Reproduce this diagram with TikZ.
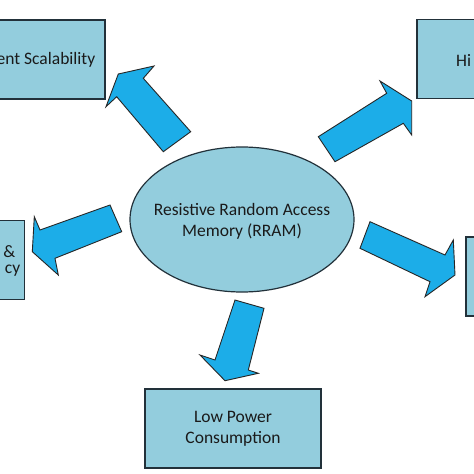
\documentclass[tikz,border=0pt]{standalone}
\usepackage{fontspec}
\setmainfont{Carlito}
\usetikzlibrary{shapes.geometric}
\definecolor{boxfill}{HTML}{93CDDD}
\definecolor{arrowfill}{HTML}{1CADE8}
\definecolor{edge}{HTML}{22313A}
\definecolor{ink}{HTML}{1A1A1A}
\tikzset{
  box/.style={draw=edge, line width=1.2pt, fill=boxfill, rectangle,
    minimum width=176pt, minimum height=79pt, inner sep=0pt},
  blockarrow/.style={draw=black!85, line width=0.9pt, fill=arrowfill, line join=miter},
  lbl/.style={text=ink, font=\fontsize{17.5}{21}\selectfont, inner sep=0pt, align=center},
}
\begin{document}
\begin{tikzpicture}[x=1pt,y=-1pt]
\useasboundingbox (0,0) rectangle (474,474);
\clip (0,0) rectangle (474,474);
\fill[white] (0,0) rectangle (474,474);
% boxes
\node[box] (tl) at (17,59.5) {};
\node[box] (tr) at (505,59) {};
\node[box] (lm) at (-63.7,260) {};
\node[box] (rm) at (554,276.5) {};
\node[box] (bt) at (233,428.5) {};
% ellipse
\node[ellipse, draw=edge, line width=1.2pt, fill=boxfill, minimum width=224pt, minimum height=145pt, inner sep=0pt] (rram) at (242,219.5) {};
% labels
\node[lbl, anchor=east] (tltext) at (95.5,60) {ent Scalability};
\node[lbl, anchor=west] (trtext) at (456,60) {Hi};
\node[lbl, anchor=east] (lmtext1) at (15.5,252) {\&};
\node[lbl, anchor=east] (lmtext2) at (20.5,271) {cy};
\node[lbl] (rramtext) at (242,221.5) {Resistive Random Access\\Memory (RRAM)};
\node[lbl] (bttext) at (233,429) {Low Power\\Consumption};
% block arrows
\draw[blockarrow] (163.3,151.7) -- (116.7,96.7) -- (106,106.7) -- (118.3,74) -- (154,66) -- (143.3,78.3) -- (190.7,131.7) -- cycle;
\draw[blockarrow] (318.3,136.7) -- (386.7,93.3) -- (380,81) -- (411.7,101) -- (411.7,135) -- (403.3,123.3) -- (335,161.7) -- cycle;
\draw[blockarrow] (110,205) -- (40,230) -- (34.3,216.7) -- (32.3,251.7) -- (58.3,275) -- (55,258.3) -- (121.7,231.7) -- cycle;
\draw[blockarrow] (370,221.7) -- (445,255) -- (453.3,240) -- (455,275) -- (425,296.7) -- (430,281.7) -- (360,248.3) -- cycle;
\draw[blockarrow] (235,300) -- (264,308.3) -- (248.3,370) -- (258.3,373.3) -- (225,380.7) -- (200,355) -- (215,360) -- cycle;
\end{tikzpicture}
\end{document}
